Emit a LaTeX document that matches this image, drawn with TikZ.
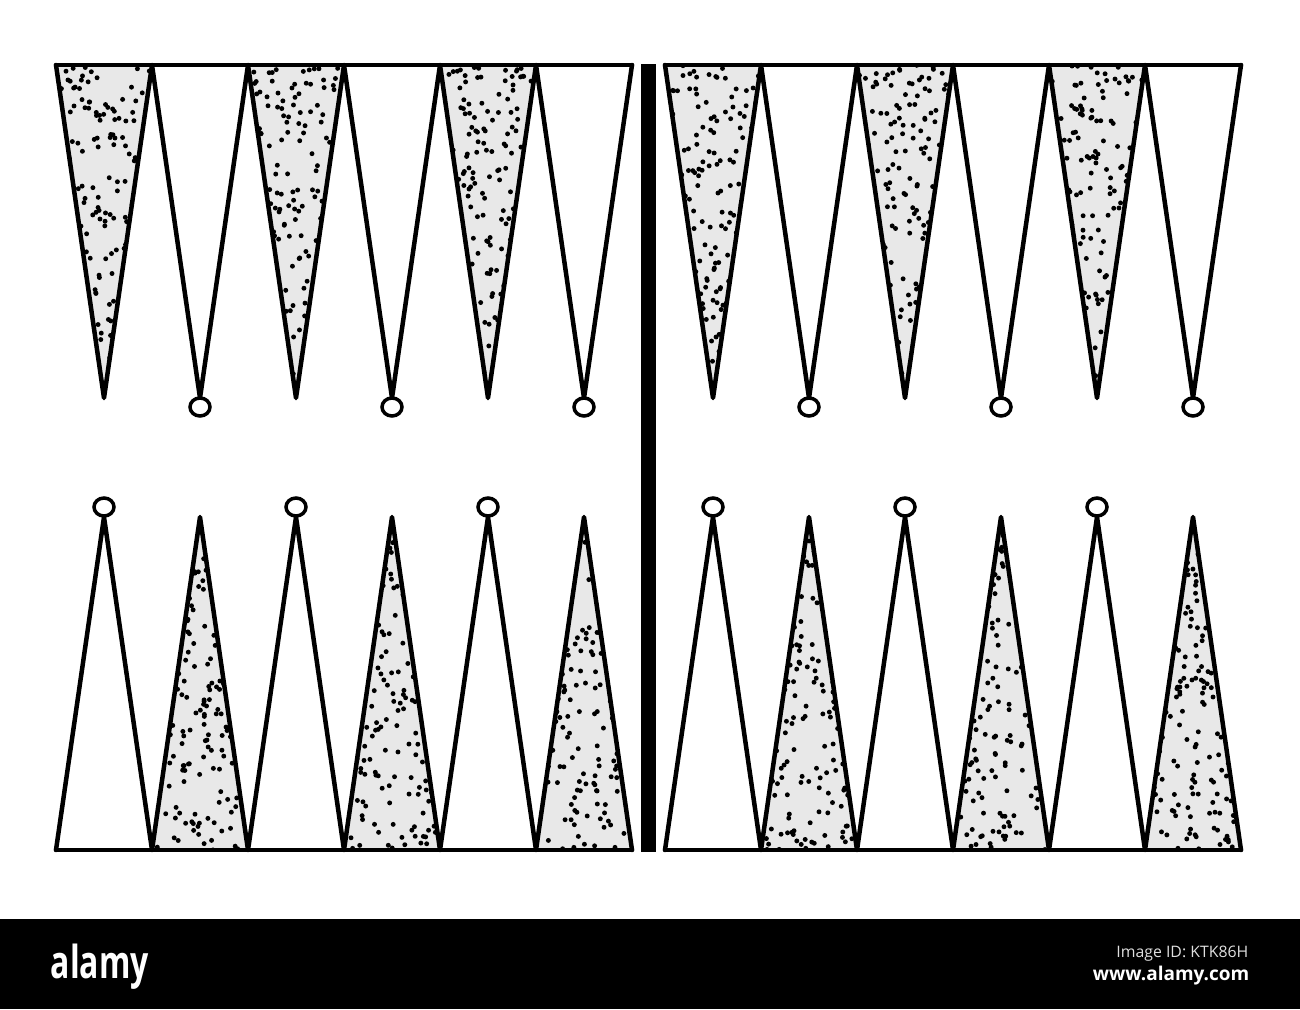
\documentclass[tikz,border=0pt]{standalone}
\usepackage{fontspec}
\newfontfamily\idfont{Open Sans}
\usetikzlibrary{calc}
\definecolor{speckgray}{gray}{0.91}
\tikzstyle{edge} = [line width=0.045cm, line join=round, line cap=round]
\tikzstyle{pip} = [line width=0.035cm, draw=black, fill=white]
\tikzstyle{bannertext} = [inner sep=0pt, font=\idfont]

% dotted point: left x, base y, tip y
\newcommand{\speckle}[3]{%
  \begin{scope}
  \clip (#1,#2) -- (#1+96,#2) -- (#1+48,#3) -- cycle;
  \fill[speckgray] (#1,#2) rectangle (#1+96,#3);
  \pgfmathsetmacro{\sx}{#1}
  \foreach \d in {1,...,210}
    \fill ({\sx+96*rnd},{#2+(#3-#2)*rnd}) circle [radius=0.7pt];
  \end{scope}}

\begin{document}
\begin{tikzpicture}[x=0.01cm, y=-0.01cm]
\pgfmathsetseed{7}
\useasboundingbox (0,0) rectangle (1300,1009);
\fill[white] (0,0) rectangle (1300,1009);
% the two halves of the board
\foreach \h in {56,665} {
  % dark points, top and bottom
  \foreach \k in {0,2,4} {
    \speckle{\h+96*\k}{65}{398}
    \speckle{\h+96*\k+96}{850}{517}
  }
  % outlines
  \draw[edge] (\h,65) -- (\h+576,65);
  \draw[edge] (\h,850) -- (\h+576,850);
  \draw[edge] (\h,65) \foreach \k in {0,...,5} { -- (\h+96*\k+48,398) -- (\h+96*\k+96,65) };
  \draw[edge] (\h,850) \foreach \k in {0,...,5} { -- (\h+96*\k+48,517) -- (\h+96*\k+96,850) };
  % rings on the white points
  \foreach \k in {1,3,5}
    \draw[pip] (\h+96*\k+48,407) ellipse [x radius=10, y radius=9];
  \foreach \k in {0,2,4}
    \draw[pip] (\h+96*\k+48,507) ellipse [x radius=10, y radius=9];
}
% the bar
\fill (641,64) rectangle (656,852);
% banner
\fill (0,919) rectangle (1300,1009);
\node[bannertext, anchor=base west, text=white] (logo) at (50,978)
  {\scalebox{0.74}[1.05]{\fontsize{12.3}{13}\selectfont\bfseries alamy}};
\node[bannertext, anchor=base east, text=black!12] (imageid) at (1249,957)
  {\fontsize{4.5}{5}\selectfont Image ID: KTK86H};
\node[bannertext, anchor=base east, text=white] (site) at (1250,980)
  {\fontsize{5.4}{6}\selectfont\bfseries www.alamy.com};
\end{tikzpicture}
\end{document}
